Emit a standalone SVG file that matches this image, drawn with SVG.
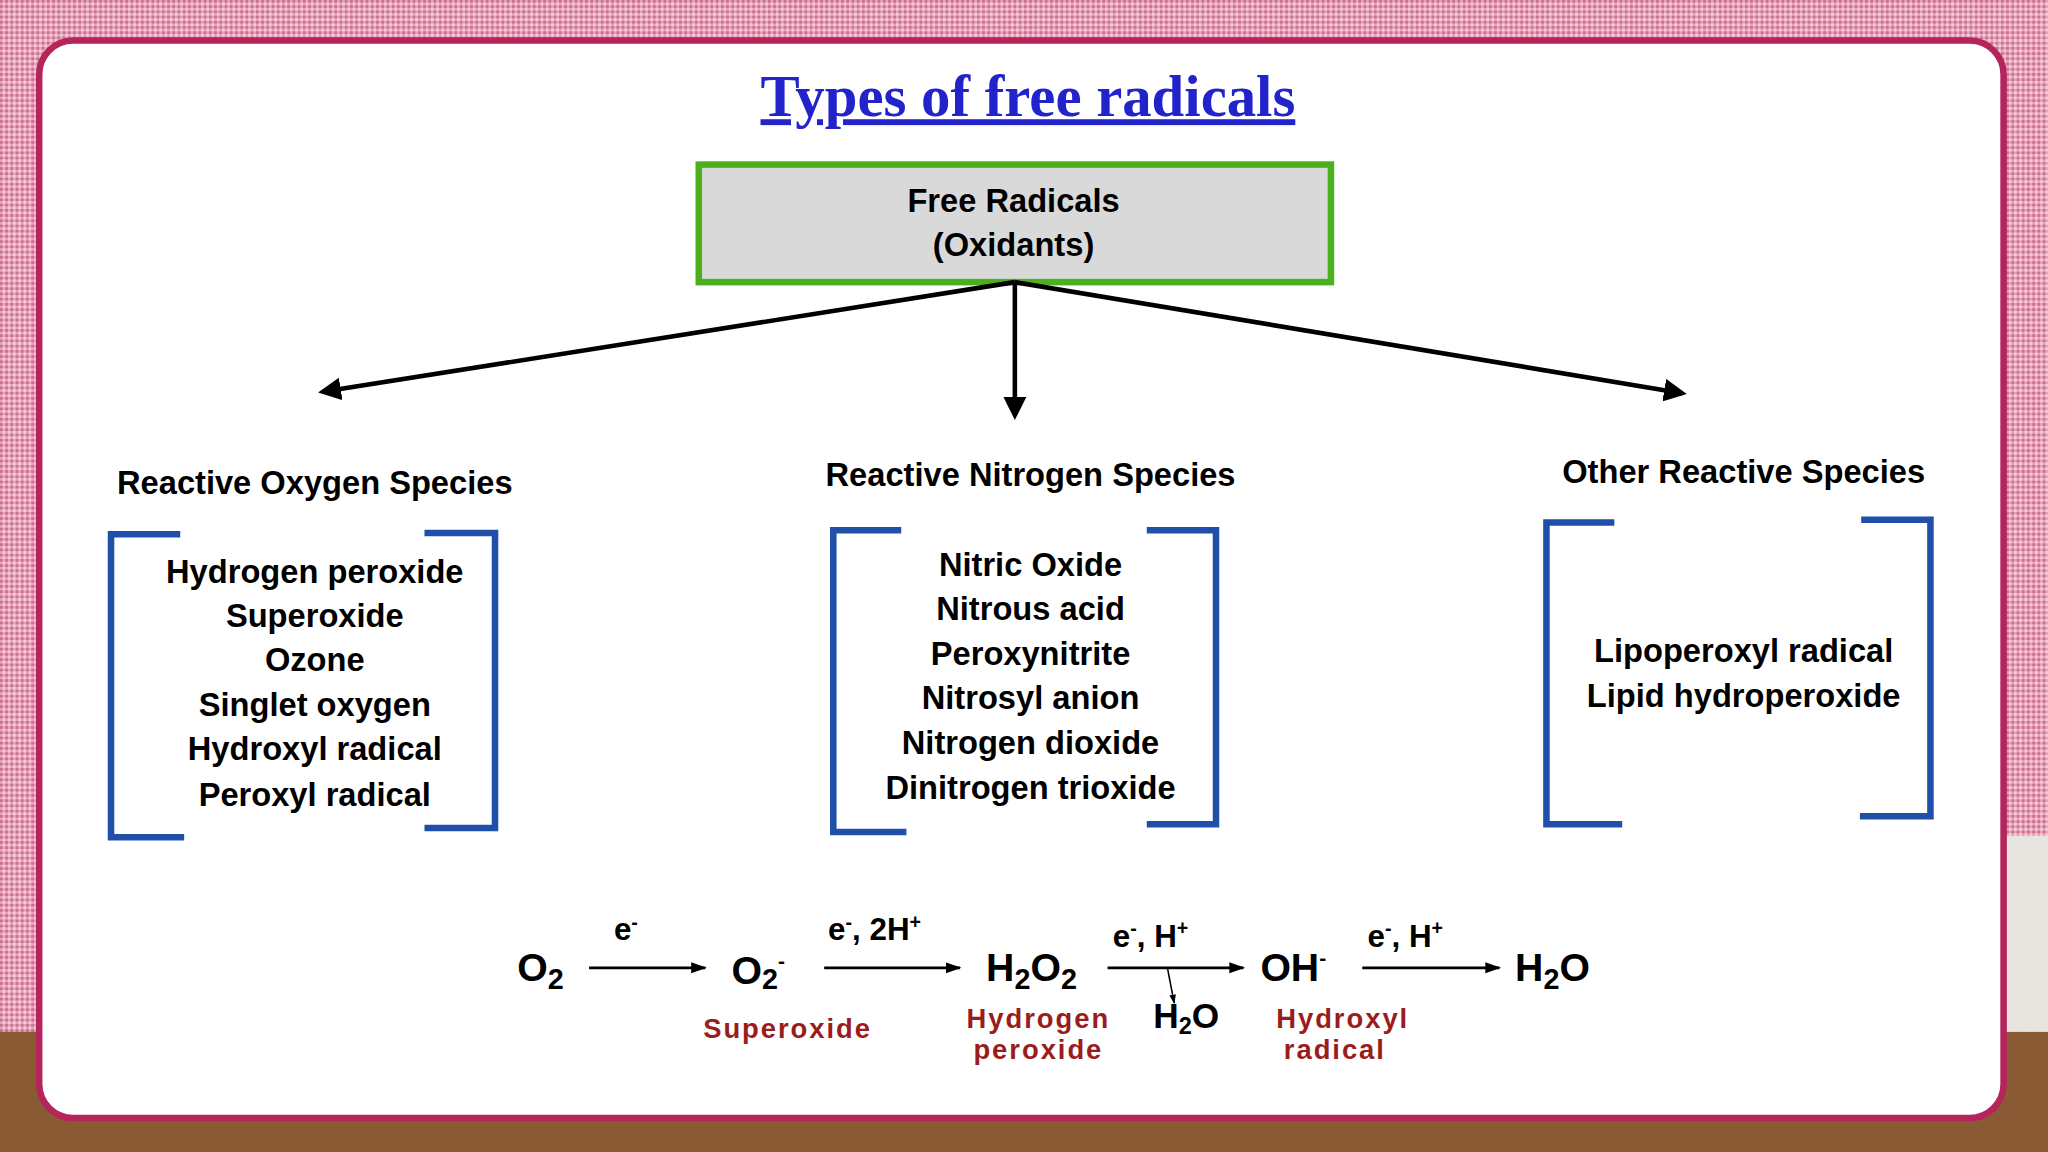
<svg xmlns="http://www.w3.org/2000/svg" width="2048" height="1152" viewBox="0 0 2048 1152">
<defs>
<pattern id="pk" width="4" height="4" patternUnits="userSpaceOnUse"><rect width="4" height="4" fill="#e7a2b8"/><rect width="2" height="2" fill="#c9708f"/><rect x="2" y="2" width="2" height="2" fill="#f4cbd8"/></pattern>
<marker id="ah" viewBox="0 0 10 10" refX="8" refY="5" markerWidth="5" markerHeight="5" orient="auto"><path d="M0,0 L10,5 L0,10 z" fill="#000"/></marker>
<marker id="as" viewBox="0 0 10 10" refX="9" refY="5" markerWidth="6" markerHeight="6" orient="auto"><path d="M0,1.5 L10,5 L0,8.5 z" fill="#000"/></marker>
<style>
.t{font-family:"Liberation Sans",Arial,sans-serif;font-weight:bold;fill:#000;text-anchor:middle}
.h{font-size:25px}
.i{font-size:25px}
.br{fill:none;stroke:#1f4fa8;stroke-width:5}
.c{stroke:#000;stroke-width:3.5;fill:none}
.eq{font-family:"Liberation Sans",Arial,sans-serif;font-weight:bold;font-size:30px;fill:#000}
.sm{font-size:22px}
.lb{font-size:24px}
.rd{font-family:"Liberation Sans",Arial,sans-serif;font-weight:bold;font-size:21px;fill:#9b1c1c;text-anchor:middle;letter-spacing:1.5px}
.ea{stroke:#000;stroke-width:2;marker-end:url(#as)}
</style>
</defs>
<g transform="scale(1.30612)">
<rect width="1568" height="882" fill="url(#pk)"/>
<rect x="0" y="790" width="1568" height="92" fill="#8a5a35"/>
<rect x="1535" y="640" width="33" height="150" fill="#e8e4df"/>
<rect x="30" y="31" width="1504" height="825" rx="26" fill="#fff" stroke="#b5245a" stroke-width="5"/>
<g id="title"><text x="787" y="89" style="font-family:'Liberation Serif','Times New Roman',serif;font-weight:bold;font-size:45px;fill:#2323cc;text-anchor:middle;text-decoration:underline">Types of free radicals</text></g>
<g id="root"><rect x="535" y="126" width="484" height="90" fill="#d9d9d9" stroke="#4cb01c" stroke-width="5"/>
<text class="t" x="776" y="162" style="font-size:25px">Free Radicals</text><text class="t" x="776" y="196" style="font-size:25px">(Oxidants)</text></g>
<g id="connectors">
<line class="c" x1="777" y1="216" x2="247" y2="300" marker-end="url(#ah)"/>
<line class="c" x1="777" y1="216" x2="777" y2="318" marker-end="url(#ah)"/>
<line class="c" x1="777" y1="216" x2="1288" y2="301" marker-end="url(#ah)"/>
</g>
<g id="ros"><text class="t h" x="241" y="378">Reactive Oxygen Species</text>
<path class="br" d="M138,409 H85 V641 H141"/><path class="br" d="M325,408 H379 V634 H325"/>
<text class="t i" x="241" y="446">Hydrogen peroxide</text><text class="t i" x="241" y="480">Superoxide</text><text class="t i" x="241" y="514">Ozone</text><text class="t i" x="241" y="548">Singlet oxygen</text><text class="t i" x="241" y="582">Hydroxyl radical</text><text class="t i" x="241" y="617">Peroxyl radical</text></g>
<g id="rns"><text class="t h" x="789" y="372">Reactive Nitrogen Species</text>
<path class="br" d="M690,406 H638 V637 H694"/><path class="br" d="M878,406 H931 V631 H878"/>
<text class="t i" x="789" y="441">Nitric Oxide</text><text class="t i" x="789" y="475">Nitrous acid</text><text class="t i" x="789" y="509">Peroxynitrite</text><text class="t i" x="789" y="543">Nitrosyl anion</text><text class="t i" x="789" y="577">Nitrogen dioxide</text><text class="t i" x="789" y="612">Dinitrogen trioxide</text></g>
<g id="ors"><text class="t h" x="1335" y="370">Other Reactive Species</text>
<path class="br" d="M1236,400 H1184 V631 H1242"/><path class="br" d="M1425,398 H1478 V625 H1424"/>
<text class="t i" x="1335" y="507">Lipoperoxyl radical</text><text class="t i" x="1335" y="541">Lipid hydroperoxide</text></g>
<g id="equation">
<text class="eq" x="396" y="751">O<tspan class="sm" dy="6">2</tspan></text>
<text class="eq lb" x="470" y="720">e<tspan font-size="15" dy="-9">-</tspan></text>
<line class="ea" x1="451" y1="741" x2="540" y2="741"/>
<text class="eq" x="560" y="753">O<tspan class="sm" dy="4">2</tspan><tspan font-size="16" dy="-16">-</tspan></text>
<text class="eq lb" x="634" y="720">e<tspan font-size="15" dy="-9">-</tspan><tspan dy="9">, 2H</tspan><tspan font-size="15" dy="-9">+</tspan></text>
<line class="ea" x1="631" y1="741" x2="735" y2="741"/>
<text class="eq" x="755" y="751">H<tspan class="sm" dy="6">2</tspan><tspan dy="-6">O</tspan><tspan class="sm" dy="6">2</tspan></text>
<text class="eq lb" x="852" y="725">e<tspan font-size="15" dy="-9">-</tspan><tspan dy="9">, H</tspan><tspan font-size="15" dy="-9">+</tspan></text>
<line class="ea" x1="848" y1="741" x2="952" y2="741"/>
<line x1="894" y1="742" x2="899" y2="768" stroke="#000" stroke-width="1.2" marker-end="url(#as)"/>
<text class="eq" x="883" y="787" style="font-size:27px">H<tspan font-size="18" dy="5">2</tspan><tspan dy="-5">O</tspan></text>
<text class="eq" x="965" y="751">OH<tspan font-size="16" dy="-12">-</tspan></text>
<text class="eq lb" x="1047" y="725">e<tspan font-size="15" dy="-9">-</tspan><tspan dy="9">, H</tspan><tspan font-size="15" dy="-9">+</tspan></text>
<line class="ea" x1="1043" y1="741" x2="1148" y2="741"/>
<text class="eq" x="1160" y="751">H<tspan class="sm" dy="6">2</tspan><tspan dy="-6">O</tspan></text>
<text class="rd" x="603" y="795">Superoxide</text>
<text class="rd" x="795" y="787">Hydrogen</text><text class="rd" x="795" y="811">peroxide</text>
<text class="rd" x="1028" y="787">Hydroxyl</text><text class="rd" x="1022" y="811">radical</text>
</g>
</g>
</svg>
